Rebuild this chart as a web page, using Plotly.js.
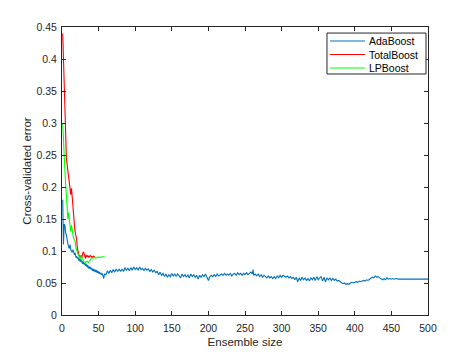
<!DOCTYPE html>
<html>
<head>
<meta charset="utf-8">
<script src="https://cdn.plot.ly/plotly-3.0.1.min.js"></script>
<style>html,body{margin:0;padding:0;background:#fff;}#chart{width:474px;height:355px;}</style>
</head>
<body>
<div id="chart"></div>
<script>
// AdaBoost
const adaX = [1,2,3,4,5,6,7,8,9,10,11,12,13,14,15,16,17,18,19,20,21,22,23,24,25,26,27,28,29,30,31,32,33,34,35,36,37,38,39,40,41,42,43,44,45,46,47,48,49,50,51,52,53,54,55,56,57,58,
60,62,64,66,68,70,72,74,76,78,80,82,84,86,88,90,92,94,96,98,100,102,104,106,108,110,112,114,116,118,120,122,124,126,128,130,132,134,136,138,140,142,144,146,148,150,152,154,156,158,160,162,164,166,168,170,172,174,176,178,180,182,184,186,188,190,192,194,196,198,200,202,204,206,208,210,212,214,216,218,220,222,224,226,228,230,232,234,236,238,240,242,244,246,248,250,252,254,256,258,260,261,262,264,266,268,270,272,274,276,278,280,282,284,286,288,290,292,294,296,298,300,302,304,306,308,310,312,314,316,318,320,322,324,326,328,330,332,334,336,338,340,342,344,346,348,350,352,354,356,358,360,362,364,366,368,370,372,374,376,378,380,382,384,386,388,390,392,394,396,398,400,402,404,406,408,410,412,414,416,418,420,422,424,426,428,430,432,434,436,438,440,442,444,446,448,450,452,454,456,458,460,500];
const adaY = [0.180,0.110,0.142,0.140,0.128,0.125,0.118,0.108,0.106,0.104,0.110,0.102,0.100,0.098,0.102,0.096,0.094,0.097,0.090,0.092,0.088,0.090,0.085,0.088,0.083,0.087,0.082,0.080,0.084,0.079,0.081,0.077,0.080,0.075,0.078,0.073,0.076,0.072,0.075,0.071,0.073,0.069,0.072,0.068,0.071,0.067,0.070,0.066,0.069,0.065,0.067,0.064,0.066,0.063,0.065,0.062,0.057,0.064,
0.063,0.069,0.065,0.070,0.066,0.071,0.067,0.072,0.068,0.072,0.068,0.072,0.068,0.074,0.070,0.073,0.069,0.074,0.070,0.075,0.071,0.074,0.070,0.075,0.071,0.073,0.069,0.073,0.070,0.072,0.068,0.071,0.067,0.070,0.066,0.068,0.063,0.067,0.062,0.065,0.060,0.064,0.059,0.063,0.060,0.065,0.061,0.064,0.060,0.064,0.061,0.058,0.064,0.060,0.063,0.059,0.063,0.058,0.064,0.060,0.063,0.059,0.062,0.056,0.062,0.059,0.063,0.060,0.064,0.058,0.054,0.060,0.062,0.060,0.063,0.060,0.064,0.061,0.063,0.064,0.062,0.065,0.062,0.064,0.062,0.065,0.061,0.064,0.065,0.062,0.066,0.063,0.065,0.062,0.065,0.063,0.066,0.063,0.065,0.067,0.064,0.071,0.062,0.064,0.061,0.064,0.060,0.063,0.059,0.062,0.060,0.058,0.061,0.058,0.060,0.057,0.060,0.057,0.061,0.058,0.062,0.059,0.062,0.060,0.059,0.061,0.058,0.060,0.057,0.059,0.055,0.059,0.052,0.058,0.054,0.059,0.055,0.058,0.054,0.057,0.053,0.058,0.055,0.059,0.054,0.060,0.055,0.058,0.060,0.053,0.059,0.052,0.058,0.055,0.058,0.054,0.057,0.054,0.056,0.053,0.054,0.052,0.050,0.049,0.050,0.048,0.049,0.048,0.050,0.051,0.050,0.051,0.052,0.051,0.053,0.052,0.053,0.054,0.053,0.055,0.054,0.056,0.057,0.059,0.058,0.061,0.059,0.060,0.058,0.056,0.055,0.057,0.055,0.058,0.056,0.057,0.056,0.057,0.056,0.057,0.056,0.056,0.056];
// TotalBoost
const totX = [1,2,3,4,5,6,7,8,9,10,11,12,13,14,15,16,17,18,19,20,21,22,23,24,25,26,27,28,29,30,31,32,33,34,35,36,37,38,39,40,41,42,43,44,45];
const totY = [0.440,0.400,0.330,0.290,0.255,0.245,0.235,0.225,0.215,0.205,0.200,0.188,0.198,0.180,0.165,0.150,0.140,0.130,0.125,0.118,0.105,0.098,0.094,0.092,0.090,0.093,0.089,0.095,0.098,0.097,0.092,0.088,0.094,0.091,0.093,0.090,0.092,0.091,0.093,0.092,0.090,0.091,0.092,0.091,0.091];
// LPBoost
const lpX = [1,2,3,4,5,6,7,8,9,10,11,12,13,14,15,16,17,18,19,20,21,22,23,24,25,26,27,28,29,30,32,34,36,38,40,42,44,46,48,50,52,54,56,58];
const lpY = [0.300,0.265,0.232,0.225,0.205,0.180,0.165,0.150,0.160,0.145,0.135,0.130,0.140,0.128,0.125,0.120,0.118,0.115,0.105,0.100,0.098,0.095,0.092,0.090,0.088,0.092,0.090,0.086,0.085,0.083,0.082,0.084,0.082,0.086,0.088,0.089,0.090,0.089,0.090,0.091,0.090,0.091,0.091,0.091];

const seriesNames = ['AdaBoost', 'TotalBoost', 'LPBoost'];
const seriesColors = ['#0072BD', '#FF0000', '#00FF00'];

const xTicks = [0,50,100,150,200,250,300,350,400,450,500];
const yTicks = [0,0.05,0.1,0.15,0.2,0.25,0.3,0.35,0.4,0.45];
const yTickText = ['0','0.05','0.1','0.15','0.2','0.25','0.3','0.35','0.4','0.45'];

const xs = [adaX, totX, lpX];
const ys = [adaY, totY, lpY];
const traces = seriesNames.map((n, i) => ({
  x: xs[i], y: ys[i], name: n, mode: 'lines', line: {color: seriesColors[i], width: 1.1}
}));

const FONT = 'Liberation Sans, Arial, sans-serif';
const axisCommon = {
  showgrid: false, zeroline: false, showline: true, mirror: 'ticks',
  linecolor: '#262626', linewidth: 1, ticks: 'inside', ticklen: 4, tickwidth: 1,
  tickcolor: '#262626', tickfont: {family: FONT, size: 10.5, color: '#262626'}
};

// custom legend box (MATLAB style, compact rows)
const legBox = {x0: 0.724, x1: 0.9945, y0: 0.8368, y1: 0.979};
const legRowY = [0.9514, 0.9045, 0.8576];
const shapes = [{type: 'rect', xref: 'paper', yref: 'paper', x0: legBox.x0, x1: legBox.x1, y0: legBox.y0, y1: legBox.y1,
  line: {color: '#262626', width: 1}, fillcolor: '#fff', layer: 'above'}];
const annotations = [];
seriesNames.forEach((n, i) => {
  shapes.push({type: 'line', xref: 'paper', yref: 'paper', x0: 0.7322, x1: 0.8279, y0: legRowY[i], y1: legRowY[i],
    line: {color: seriesColors[i], width: 1.1}, layer: 'above'});
  annotations.push({xref: 'paper', yref: 'paper', x: 0.8333, y: legRowY[i], xanchor: 'left', yanchor: 'middle',
    text: n, showarrow: false, font: {family: FONT, size: 10.5, color: '#000'}});
});

const layout = {
  width: 474, height: 355,
  margin: {l: 62, r: 46, t: 27, b: 40},
  paper_bgcolor: '#fff', plot_bgcolor: '#fff',
  showlegend: false,
  xaxis: Object.assign({}, axisCommon, {
    range: [0, 500], tickvals: xTicks, ticktext: xTicks.map(String), ticklabelstandoff: 3,
    title: {text: 'Ensemble size', font: {family: FONT, size: 11.5, color: '#262626'}, standoff: 5}
  }),
  yaxis: Object.assign({}, axisCommon, {
    range: [0, 0.45], tickvals: yTicks, ticktext: yTickText, ticklabelstandoff: 2,
    title: {text: 'Cross-validated error', font: {family: FONT, size: 11.5, color: '#262626'}, standoff: 2}
  }),
  shapes: shapes,
  annotations: annotations
};

Plotly.newPlot('chart', traces, layout, {displayModeBar: false, staticPlot: true});
</script>
</body>
</html>
